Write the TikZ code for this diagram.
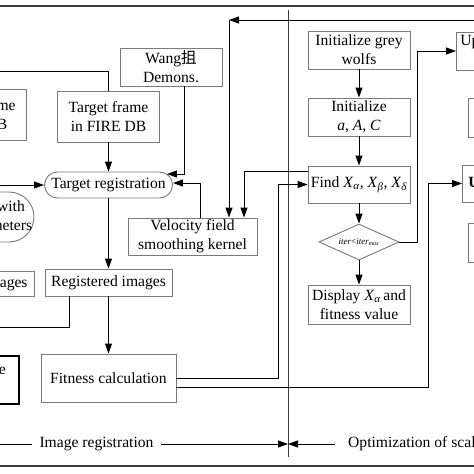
\documentclass[tikz,border=0pt]{standalone}
\usepackage{fontspec}
\setmainfont{Liberation Serif}
\newfontfamily\cjk{Noto Sans CJK SC}
\usetikzlibrary{arrows.meta,shapes.geometric,calc}
\definecolor{boxgray}{HTML}{7A7A7A}
\definecolor{rulegray}{HTML}{3A3A3A}
\begin{document}
\begin{tikzpicture}[x=1pt,y=-1pt,
  txt/.style={font=\fontsize{15.6}{19}\selectfont, text=black},
  box/.style={txt, draw=boxgray, line width=0.9pt, fill=white, inner sep=0pt, align=center},
  lbox/.style={box, anchor=west},
  conn/.style={line width=1pt, black},
  arr/.style={conn, -{Triangle[length=10pt,width=7pt]}},
  lbl/.style={txt, inner xsep=7pt, inner ysep=0pt}
 ]
\useasboundingbox (0,0) rectangle (474,474);
\clip (0,0) rectangle (474,474);

% frame rules
\draw[rulegray, line width=1.8pt] (-5,6) -- (480,6);
\draw[rulegray, line width=1.8pt] (-5,466) -- (480,466);
\draw[rulegray, line width=0.8pt] (288,10) -- (288,457);

% left column nodes
\node[box, minimum width=113pt, minimum height=51pt] (src) at (-30.5,114.5) {Floating frame\\in FIRE DB};
\node[box, minimum width=102pt, minimum height=51pt] (tf) at (108.5,116.5) {Target frame\\in FIRE DB};
\node[box, minimum width=102pt, minimum height=38pt] (wang) at (171,67) {Wang{\cjk 抯}\\Demons.};
\node[box, rounded corners=13pt, minimum width=128pt, minimum height=26pt] (tr) at (108.5,185) {Target registration};
\node[box, rounded corners=25pt, minimum width=102pt, minimum height=50pt] (ell) at (-17,217) {Demons with\\new parameters};
\node[box, minimum width=113pt, minimum height=25pt] (fimg) at (-22.5,283.5) {Floating images};
\node[box, minimum width=127pt, minimum height=27pt] (reg) at (108.5,282.5) {Registered images};
\node[box, draw=black, line width=2.5pt, minimum width=135pt, minimum height=48pt] (out) at (-48.5,380) {Registered image\\output};
\node[box, minimum width=135pt, minimum height=48pt] (fit) at (108.5,378) {Fitness calculation};
\node[box, minimum width=129pt, minimum height=37pt] (vel) at (192.5,236.5) {Velocity field\\smoothing kernel};

% middle column nodes
\node[box, minimum width=102pt, minimum height=38pt] (igw) at (359,50) {Initialize grey\\wolfs};
\node[box, minimum width=102pt, minimum height=38pt] (init) at (359,117) {Initialize\\\textit{a}, \textit{A}, \textit{C}};
\node[box, minimum width=102pt, minimum height=37pt] (find) at (359,184.5) {Find \textit{X}\textsubscript{\textit{α}}, \textit{X}\textsubscript{\textit{β}}, \textit{X}\textsubscript{\textit{δ}}};
\node[box, diamond, aspect=2.2, minimum width=80pt, minimum height=36pt, font=\fontsize{9}{10}\selectfont] (dia) at (359,242) {\textit{iter}<\textit{iter}\textsubscript{\textit{max}}};
\node[box, minimum width=102pt, minimum height=39pt] (disp) at (359,304.5) {Display \textit{X}\textsubscript{\textit{α}}\,and\\fitness value};

% right column nodes
\node[lbox, minimum height=38pt, inner xsep=4pt] (r1) at (456,51) {Update the position of\\search agents};
\node[lbox, minimum height=39pt, inner xsep=10pt] (r2) at (468,117.5) {Calculate fitness\\of all agents};
\node[lbox, minimum height=37pt, inner xsep=6pt] (r3) at (462,183.5) {\textbf{Update \textit{a}, \textit{A}, \textit{C}}};
\node[lbox, minimum height=39pt, inner xsep=10pt] (r4) at (468,242.5) {Update \textit{X}\textsubscript{\textit{α}}, \textit{X}\textsubscript{\textit{β}}\\and \textit{X}\textsubscript{\textit{δ}}};

% bottom labels
\node[lbl] (lreg) at (96.5,444) {Image registration};
\node[lbl, anchor=west] (lopt) at (341,444) {Optimization of scale parameters};

% helper coordinates
\coordinate (inA) at (-5,71);
\coordinate (inB) at (-5,185);
\coordinate (outL) at (-5,327);
\coordinate (topR) at (480,20);
\coordinate (tc) at (229,20);
\coordinate (c1) at (278,0);
\coordinate (c2) at (428,0);
\coordinate (c3) at (417,0);
\coordinate (bl) at (-5,444);
\coordinate (dv) at (288,444);

% connectors
\draw[conn] (inA) -| (tf.north);
\draw[arr] (tf.south) -- (tr.north);
\draw[arr] ($(wang.south)+(13,0)$) |- ($(tr.east)+(-6,-11)$);
\draw[arr] ($(vel.north)+(7.5,0)$) |- ($(tr.east)+(0,-2)$);
\draw[arr] (inB) -- (tr.west);
\draw[arr] (tr.south) -- (reg.north);
\draw[conn] ($(reg.south)+(-39.5,0)$) |- (outL);
\draw[arr] (reg.south) -- (fit.north);
\draw[arr] (topR) -- (tc);
\draw[arr] (tc) -- (tc |- vel.north);
\draw[arr] ($(find.west)+(0,-13.5)$) -| ($(vel.north)+(51.5,0)$);
\draw[arr] (fit.east) -| (c1 |- find.west) -- (find.west);
\draw[arr] ($(fit.east)+(0,9)$) -| (c2 |- r3.west) -- (r3.west);
\draw[arr] (igw.south) -- (init.north);
\draw[arr] (init.south) -- (find.north);
\draw[arr] (find.south) -- (dia.north);
\draw[arr] (dia.south) -- (disp.north);
\draw[arr] (dia.east) -| (c3 |- r1.west) -- (r1.west);
\draw[conn] (bl) -- (lreg.west);
\draw[arr] (lreg.east) -- (dv);
\draw[arr] ($(lopt.west)+(-6,0)$) -- (dv);
\end{tikzpicture}
\end{document}
